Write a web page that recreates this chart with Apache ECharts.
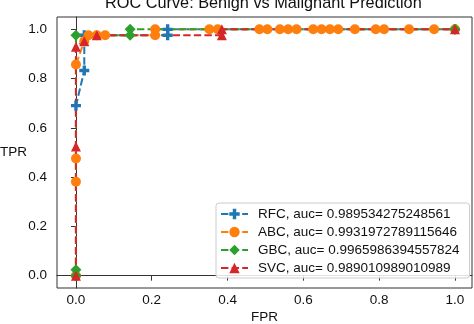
<!DOCTYPE html>
<html>
<head>
<meta charset="utf-8">
<script src="https://cdn.jsdelivr.net/npm/echarts@6/dist/echarts.min.js"></script>
<style>
  html, body { margin: 0; padding: 0; background: #fff; }
  #chart { width: 474px; height: 324px; }
</style>
</head>
<body>
<div id="chart"></div>
<script>
// ROC points (false positive rate, true positive rate) for each classifier
const rfcFpr = [0, 0, 0.022, 0.022, 0.242, 0.242, 1];
const rfcTpr = [0, 0.690, 0.833, 0.976, 0.976, 1, 1];

const abcFpr = [0, 0, 0, 0, 0.022, 0.033, 0.055, 0.077, 0.209, 0.209, 0.352, 0.374, 0.484, 0.505,
                0.538, 0.560, 0.582, 0.626, 0.648, 0.670, 0.692, 0.736, 0.791, 0.813, 0.879, 0.945, 1];
const abcTpr = [0, 0.381, 0.476, 0.857, 0.952, 0.976, 0.976, 0.976, 0.976, 1, 1, 1, 1, 1,
                1, 1, 1, 1, 1, 1, 1, 1, 1, 1, 1, 1, 1];

const gbcFpr = [0, 0, 0, 0.143, 0.143, 1];
const gbcTpr = [0, 0.024, 0.976, 0.976, 1, 1];

const svcFpr = [0, 0, 0, 0.022, 0.055, 0.385, 0.385, 1];
const svcTpr = [0, 0.524, 0.929, 0.952, 0.976, 0.976, 1, 1];

const legendNames = [
  'RFC, auc= 0.989534275248561',
  'ABC, auc= 0.9931972789115646',
  'GBC, auc= 0.9965986394557824',
  'SVC, auc= 0.989010989010989'
];
const tickValues = [0, 0.2, 0.4, 0.6, 0.8, 1.0];

const FONT = 'Liberation Sans';
const TXT = '#111';
const plusPath = 'path://M1,0H2V1H3V2H2V3H1V2H0V1H1Z';

function pairs(xs, ys) { return xs.map((x, i) => [x, ys[i]]); }

function rocSeries(name, xs, ys, color, symbol, size) {
  return {
    name: name,
    type: 'line',
    data: pairs(xs, ys),
    symbol: symbol,
    symbolSize: size,
    showAllSymbol: true,
    animation: false,
    lineStyle: { color: color, width: 2, type: [7.4, 3.2] },
    itemStyle: { color: color, borderWidth: 0 },
    emphasis: { disabled: true }
  };
}

const chart = echarts.init(document.getElementById('chart'), null, { renderer: 'canvas' });
chart.setOption({
  animation: false,
  backgroundColor: '#fff',
  textStyle: { fontFamily: FONT },
  title: {
    text: 'ROC Curve: Benign vs Malignant Prediction',
    left: 105,
    top: -4.5,
    padding: 0,
    textStyle: { fontFamily: FONT, fontSize: 16.3, fontWeight: 'normal', color: TXT }
  },
  grid: {
    left: 57, right: 2, top: 17, bottom: 36,
    outerBoundsMode: 'none',
    containLabel: false,
    show: true, borderColor: '#333', borderWidth: 1, backgroundColor: 'transparent'
  },
  xAxis: {
    type: 'value',
    min: -0.05, max: 1.045,
    name: 'FPR',
    nameLocation: 'middle',
    nameGap: 22,
    nameMoveOverlap: false,
    nameTextStyle: { fontFamily: FONT, fontSize: 13.5, color: TXT },
    axisLine: { show: true, lineStyle: { color: '#333', width: 1 } },
    axisTick: { show: true, length: 5, customValues: tickValues, lineStyle: { color: '#333', width: 1 } },
    axisLabel: {
      customValues: tickValues, margin: 5,
      fontFamily: FONT, fontSize: 13.5, color: TXT,
      formatter: v => v.toFixed(1)
    },
    splitLine: { show: false }
  },
  yAxis: {
    type: 'value',
    min: -0.05, max: 1.05,
    name: 'TPR',
    nameLocation: 'middle',
    nameRotate: 0,
    nameGap: 30,
    nameMoveOverlap: false,
    nameTextStyle: { fontFamily: FONT, fontSize: 13.5, color: TXT },
    axisLine: { show: true, lineStyle: { color: '#333', width: 1 } },
    axisTick: { show: true, length: 5, customValues: tickValues, lineStyle: { color: '#333', width: 1 } },
    axisLabel: {
      customValues: tickValues, margin: 10,
      fontFamily: FONT, fontSize: 13.5, color: TXT,
      formatter: v => v.toFixed(1)
    },
    splitLine: { show: false }
  },
  legend: {
    orient: 'vertical',
    left: 216, top: 203,
    padding: [4, 10, 3, 4],
    itemGap: 4,
    itemWidth: 27,
    itemHeight: 13,
    selectedMode: false,
    backgroundColor: 'rgba(255,255,255,0.85)',
    borderColor: '#ccc',
    borderWidth: 1,
    borderRadius: 3,
    textStyle: { fontFamily: FONT, fontSize: 13.5, color: TXT, padding: [0, 0, 0, 5] },
    data: legendNames
  },
  series: [
    rocSeries(legendNames[0], rfcFpr, rfcTpr, '#1f77b4', plusPath, 10),
    rocSeries(legendNames[1], abcFpr, abcTpr, '#ff7f0e', 'circle', 10),
    rocSeries(legendNames[2], gbcFpr, gbcTpr, '#2ca02c', 'diamond', 11),
    rocSeries(legendNames[3], svcFpr, svcTpr, '#d62728', 'triangle', 10)
  ]
});
</script>
</body>
</html>
